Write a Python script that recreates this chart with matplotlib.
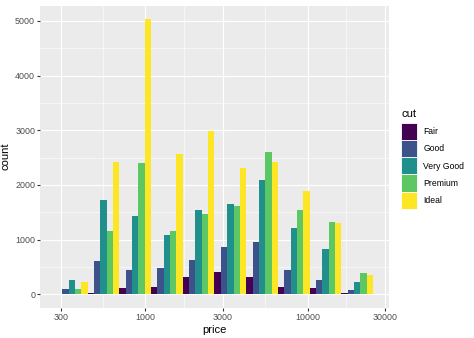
import matplotlib
matplotlib.use("Agg")
import matplotlib.pyplot as plt
from matplotlib.patches import Patch
from matplotlib.ticker import FixedLocator, NullFormatter
import numpy as np

plt.rcParams['font.family'] = ['Liberation Sans', 'DejaVu Sans']

cuts = ["Fair", "Good", "Very Good", "Premium", "Ideal"]
colors = ["#440154", "#3B528B", "#21908C", "#5DC863", "#FDE725"]
# histogram bin edges (price)
bin_edges = [279.9, 439.2, 689.2, 1081.6, 1697.6, 2664.5, 4182.0, 6563.0, 10302.0, 16169.0, 25377.0]
counts = {
    "Fair":      [3, 24, 110, 140, 311, 415, 311, 140, 110, 24],
    "Good":      [98, 604, 451, 482, 634, 866, 963, 439, 262, 85],
    "Very Good": [262, 1726, 1439, 1079, 1537, 1659, 2091, 1213, 823, 226],
    "Premium":   [91, 1159, 2402, 1159, 1476, 1622, 2610, 1543, 1323, 384],
    "Ideal":     [226, 2421, 5030, 2561, 2982, 2317, 2415, 1896, 1311, 348],
}
x_ticks = [300, 1000, 3000, 10000, 30000]
x_ticklabels = ["300", "1000", "3000", "10000", "30000"]
y_ticks = [0, 1000, 2000, 3000, 4000, 5000]

W, H = 474, 338
fig = plt.figure(figsize=(W / 100, H / 100), dpi=100)
ax = fig.add_axes([40 / W, 1 - 308 / H, (389 - 40) / W, (308 - 5.5) / H])
ax.set_facecolor("#EBEBEB")
ax.set_xscale("log")

le = np.log10(bin_edges)
n = len(cuts)
for j, cut in enumerate(cuts):
    lefts, widths = [], []
    for i in range(len(bin_edges) - 1):
        w = (le[i + 1] - le[i]) / n
        a = 10 ** (le[i] + j * w)
        b = 10 ** (le[i] + (j + 1) * w)
        lefts.append(a)
        widths.append(b - a)
    ax.bar(lefts, counts[cut], width=widths, align="edge", color=colors[j],
           linewidth=0, zorder=3)

lo, hi = le[0], le[-1]
pad = (hi - lo) * 0.05
ax.set_xlim(10 ** (lo - pad), 10 ** (hi + pad))
ymax = max(max(v) for v in counts.values())
ax.set_ylim(-ymax * 0.05, ymax * 1.05)

ax.xaxis.set_major_locator(FixedLocator(x_ticks))
ax.set_xticklabels(x_ticklabels)
lt = np.log10(x_ticks)
minor_x = [10 ** ((lt[i] + lt[i + 1]) / 2) for i in range(len(lt) - 1)]
ax.xaxis.set_minor_locator(FixedLocator(minor_x))
ax.xaxis.set_minor_formatter(NullFormatter())
ax.set_yticks(y_ticks)
ax.set_yticks([500, 1500, 2500, 3500, 4500], minor=True)

ax.grid(which="major", color="white", linewidth=0.8, zorder=0)
ax.grid(which="minor", color="white", linewidth=0.4, zorder=0)
ax.set_axisbelow(True)
for s in ax.spines.values():
    s.set_visible(False)
ax.tick_params(which="major", length=2.0, width=0.8, color="#333333",
               labelsize=6.4, labelcolor="#4D4D4D", pad=1.5)
ax.tick_params(which="minor", length=0)

ax.set_xlabel("price", fontsize=8, color="black", labelpad=2)
ax.set_ylabel("count", fontsize=8, color="black", labelpad=3)

handles = [Patch(facecolor=c, edgecolor="white", linewidth=0.6, label=l)
           for c, l in zip(colors, cuts)]
leg = fig.legend(handles=handles, title="cut", loc="upper left",
                 bbox_to_anchor=(401 / W, 1 - 109 / H), frameon=False,
                 fontsize=6.2, title_fontsize=8, handlelength=1.9,
                 handleheight=2.68, labelspacing=0.0, handletextpad=0.7,
                 borderpad=0, borderaxespad=0)
leg._legend_box.align = "left"
leg._legend_box.sep = 3

fig.savefig("out.png", dpi=100)
